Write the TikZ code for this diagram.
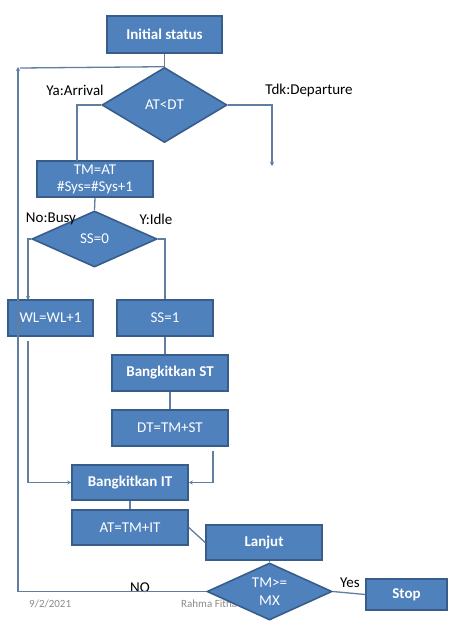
\documentclass[tikz,border=0pt]{standalone}
\usepackage{fontspec}
\setmainfont{Carlito}
\usetikzlibrary{shapes.geometric,arrows.meta}
\definecolor{boxfill}{HTML}{4F81BD}
\definecolor{boxline}{HTML}{385D8A}
\definecolor{conn}{HTML}{5F7EA0}
\definecolor{foot}{HTML}{8C8C8C}
\tikzset{
  fbox/.style={rectangle, fill=boxfill, draw=boxline, line width=1.6pt, inner sep=0pt,
    text=white, font=\fontsize{15}{16}\selectfont, align=center},
  fdia/.style={diamond, fill=boxfill, draw=boxline, line width=1.6pt, inner sep=0pt,
    text=white, font=\fontsize{15}{16}\selectfont, align=center},
  conline/.style={draw=conn, line width=1.3pt},
  arr/.style={conline, -{Stealth[length=4pt,width=4pt]}},
  lbl/.style={font=\fontsize{15}{16}\selectfont, text=black, inner sep=0pt},
  footlbl/.style={font=\fontsize{11}{12}\selectfont, text=foot, inner sep=0pt, anchor=west},
  bf/.style={font=\bfseries\fontsize{15}{16}\selectfont}
}
\begin{document}
\begin{tikzpicture}[x=1pt,y=-1pt]
\useasboundingbox (0,0) rectangle (474,632);
\fill[white] (0,0) rectangle (474,632);

% footer (behind the diamond)
\node[footlbl] (date) at (29,604) {9/2/2021};
\node[footlbl] (author) at (181,604) {Rahma Fitha};

% nodes
\node[fbox, bf, minimum width=115pt, minimum height=37pt] (init) at (164.5,34.5) {Initial status};
\node[fdia, minimum width=125pt, minimum height=75pt, aspect=1.67] (d1) at (164.5,105) {AT<DT};
\node[fbox, minimum width=116pt, minimum height=36pt, font=\fontsize{15}{17}\selectfont] (tm) at (95,179) {TM=AT\\\#Sys=\#Sys+1};
\node[fdia, minimum width=125pt, minimum height=56pt, aspect=2.2] (d2) at (94.5,239) {SS=0};
\node[fbox, minimum width=85pt, minimum height=36pt] (wl) at (50.5,318) {WL=WL+1};
\node[fbox, minimum width=96pt, minimum height=36pt] (ss) at (165,318) {SS=1};
\node[fbox, bf, minimum width=116pt, minimum height=36pt] (bst) at (170,373) {Bangkitkan ST};
\node[fbox, minimum width=116pt, minimum height=36pt] (dt) at (170,428) {DT=TM+ST};
\node[fbox, bf, minimum width=116pt, minimum height=35pt] (bit) at (130,482.5) {Bangkitkan IT};
\node[fbox, minimum width=116pt, minimum height=35pt] (at) at (130,527.5) {AT=TM+IT};
\node[fbox, bf, minimum width=116pt, minimum height=35pt] (lanjut) at (264,542.5) {Lanjut};
\node[fdia, minimum width=125pt, minimum height=57pt, aspect=2.2, font=\fontsize{15}{18}\selectfont] (d3) at (269.5,591.5) {TM>=\\MX};
\node[fbox, bf, minimum width=81pt, minimum height=31pt] (stop) at (406.5,594.5) {Stop};

% coordinates
\coordinate (loopTop) at (18,67);
\coordinate (loopJoin) at (20,68);
\coordinate (depEnd) at (272,166);

% labels
\node[lbl] (lya) at (75,90) {Ya:Arrival};
\node[lbl] (ltdk) at (309,90) {Tdk:Departure};
\node[lbl] (lno) at (51,219) {No:Busy};
\node[lbl] (lyi) at (156,219) {Y:Idle};
\node[lbl] (lNO) at (140,588) {NO};
\node[lbl] (lyes) at (350,583) {Yes};

% connectors
\draw[conline] (init.south) -- (d1.north);
\draw[conline] (d1.north) -- (loopJoin);
\draw[arr] (d3.west) -- (18,591.5) -- (loopTop);
\draw[conline] (d1.west) -- (77,105) -- (77,161);
\draw[arr] (d1.east) -- (272,105) -- (depEnd);
\draw[conline] (tm.south) -- (d2.north);
\draw[arr] (d2.west) -- (28,239) -- (28,300);
\draw[conline] (d2.east) -- (165,239) -- (ss.north);
\draw[conline] (ss.south) -- (bst.north -| ss.south);
\draw[conline] (bst.south) -- (dt.north);
\draw[arr] (28,341) -- (28,482.5) -- (bit.west);
\draw[arr] (213,451) -- (213,482.5) -- (bit.east);
\draw[conline] (bit.south) -- (at.north);
\draw[conline] (at.east) -- (lanjut.west);
\draw[conline] (lanjut.south -| d3.north) -- (d3.north);
\draw[conline] (d3.east) -- (stop.west);
\end{tikzpicture}
\end{document}
